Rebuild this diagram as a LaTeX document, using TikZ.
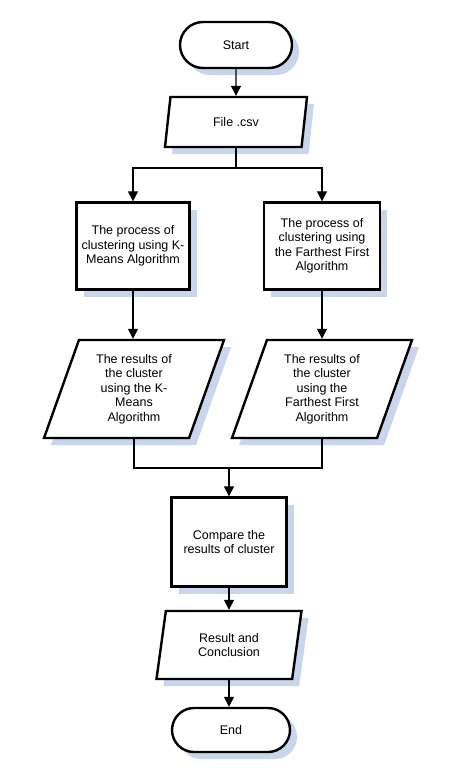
\documentclass[tikz,border=0pt]{standalone}
\usepackage{fontspec}
\setmainfont{Liberation Sans}
\usepackage{xcolor}
\usetikzlibrary{arrows.meta,shapes.geometric,shapes.misc,shadows}	%TikZ Libraries
\definecolor{shadowblue}{RGB}{200,213,236}
\tikzset{
	chartbox/.style={draw, line width=2.4pt, fill=white, align=center, inner sep=1pt,
		font=\fontsize{12.5}{14.5}\selectfont,
		drop shadow={shadow xshift=7pt, shadow yshift=-7pt, fill=shadowblue, opacity=1}},
	terminal/.style={chartbox, rounded rectangle, minimum width=114pt, minimum height=46pt},
	procbox/.style={chartbox, rectangle, minimum height=87pt},
	iobox/.style={chartbox, trapezium, trapezium left angle=64, trapezium right angle=116,
		trapezium stretches body},
	link/.style={line width=1.3pt},
	arr/.style={link, -{Triangle[length=10pt, width=10pt]}}
}

\begin{document}
\begin{tikzpicture}[x=1pt, y=-1pt]
		\useasboundingbox (0,0) rectangle (474,768);
		\node[terminal] (start) at (236,45) {Start};
		\node[iobox, minimum width=142pt, minimum height=50pt] (file) at (236,122) {File .csv};
		\coordinate (split) at (236,168);
		\node[procbox, minimum width=113pt] (procK) at (133,246)
			{The process of\\ clustering using K-\\ Means Algorithm};
		\node[procbox, minimum width=116pt] (procF) at (322,246)
			{The process of\\ clustering using\\ the Farthest First\\ Algorithm};
		\node[iobox, minimum width=180pt, minimum height=98pt] (resK) at (134,389)
			{The results of\\ the cluster\\ using the K-\\ Means\\ Algorithm};
		\node[iobox, minimum width=180pt, minimum height=98pt] (resF) at (322,389)
			{The results of\\ the cluster\\ using the\\ Farthest First\\ Algorithm};
		\coordinate (join) at (229,468);
		\node[procbox, minimum width=115pt, minimum height=89pt] (cmp) at (229,542)
			{Compare the\\ results of cluster};
		\node[iobox, trapezium left angle=70, trapezium right angle=110,
			minimum width=145pt, minimum height=68pt] (concl) at (229,645) {Result and\\ Conclusion};
		\node[terminal, minimum width=120pt, minimum height=44pt] (stop) at (231,730) {End};

		\draw[arr] (start) -- (file);
		\draw[link] (file) -- (split);
		\draw[arr] (split) -| (procK);
		\draw[arr] (split) -| (procF);
		\draw[arr] (procK) -- (procK.south |- resK.north);
		\draw[arr] (procF) -- (procF.south |- resF.north);
		\draw[link] (resK.south) |- (join);
		\draw[link] (resF.south) |- (join);
		\draw[arr] (join) -- (cmp);
		\draw[arr] (cmp) -- (cmp.south |- concl.north);
		\draw[arr] (concl.south) -- (concl.south |- stop.north);
\end{tikzpicture}
\end{document}
